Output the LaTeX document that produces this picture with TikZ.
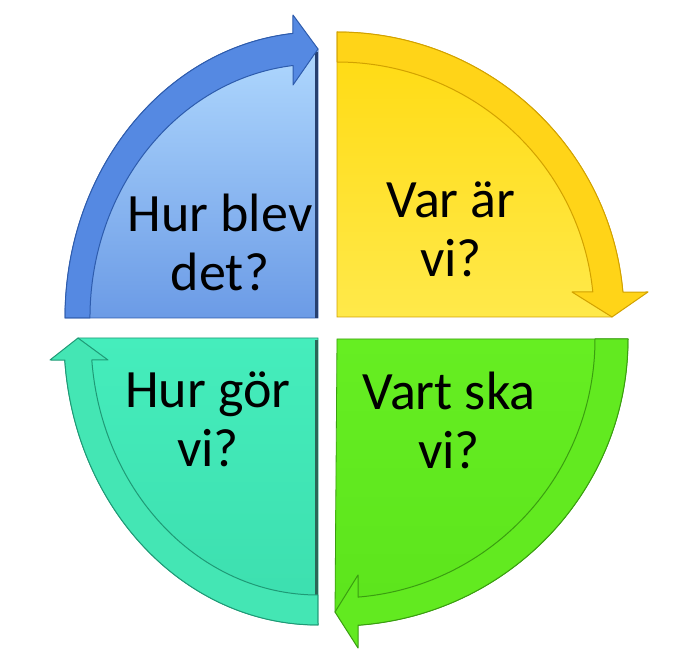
\documentclass[tikz,border=0pt]{standalone}
\usepackage{fontspec}
\setmainfont{Carlito}
\definecolor{blueTop}{HTML}{B3DBFF}
\definecolor{blueBot}{HTML}{6B9BE6}
\definecolor{blueBand}{HTML}{5589E2}
\definecolor{blueLine}{HTML}{2E5CAD}
\definecolor{blueEdge}{HTML}{27406F}
\definecolor{yelTop}{HTML}{FFDA10}
\definecolor{yelBot}{HTML}{FFE94A}
\definecolor{yelBand}{HTML}{FFD418}
\definecolor{yelLine}{HTML}{D2A200}
\definecolor{grnTop}{HTML}{66EE22}
\definecolor{grnBot}{HTML}{5CE41C}
\definecolor{grnBand}{HTML}{62EA20}
\definecolor{grnLine}{HTML}{3A9E10}
\definecolor{tealTop}{HTML}{45EDBC}
\definecolor{tealBot}{HTML}{3CDEAE}
\definecolor{tealBand}{HTML}{44E6B4}
\definecolor{tealLine}{HTML}{1F9A76}
\definecolor{tealEdge}{HTML}{2B6657}
\begin{document}
\begin{tikzpicture}[x=1pt,y=-1pt,
  lbl/.style={font=\fontsize{54}{59}\selectfont, align=center, inner sep=0pt, text=black, anchor=base},
  body/.style={line width=0.8pt},
  band/.style={line width=1pt, line join=round}]
\useasboundingbox (0,0) rectangle (686,660);

% ---------- blue (top left) ----------
\path[body, top color=blueTop, bottom color=blueBot, draw=blueLine]
  (318,318) -- (65,318) arc[start angle=180,end angle=264.3,x radius=253,y radius=286] -- (318,49) -- cycle;
\draw[blueEdge, line width=3pt] (316,52) -- (316,318);
\path[band, fill=blueBand, draw=blueLine]
  (65,318) arc[start angle=180,end angle=264.3,x radius=253,y radius=286]
  -- (293,15) -- (318,49) -- (293,85) -- (293,65.5)
  arc[start angle=263.71,end angle=180,x radius=228,y radius=254] -- cycle;

% ---------- yellow (top right) ----------
\path[body, top color=yelTop, bottom color=yelBot, draw=yelLine]
  (337,317) -- (337,32) arc[start angle=270,end angle=354.97,x radius=287,y radius=285] -- (612,317) -- cycle;
\path[band, fill=yelBand, draw=yelLine]
  (337,32) arc[start angle=270,end angle=354.97,x radius=287,y radius=285]
  -- (648,292) -- (612,317) -- (572,292) -- (592.8,292)
  arc[start angle=354.37,end angle=270,x radius=257,y radius=255] -- cycle;

% ---------- green (bottom right) ----------
\path[body, top color=grnTop, bottom color=grnBot, draw=grnLine]
  (337,339) -- (628,339) arc[start angle=0,end angle=85.86,x radius=291,y radius=287] -- (335,612) -- cycle;
\path[band, fill=grnBand, draw=grnLine]
  (628,339) arc[start angle=0,end angle=85.86,x radius=291,y radius=287]
  -- (358,648) -- (335,612) -- (358,575) -- (358,597.1)
  arc[start angle=85.33,end angle=0,x radius=258,y radius=259] -- cycle;

% ---------- teal (bottom left) ----------
\path[body, top color=tealTop, bottom color=tealBot, draw=tealLine]
  (318,338) -- (318,625) arc[start angle=90,end angle=175.6,x radius=254,y radius=287] -- (78,338) -- cycle;
\draw[tealEdge, line width=3pt] (316,340) -- (316,622);
\path[band, fill=tealBand, draw=tealLine]
  (318,625) arc[start angle=90,end angle=175.6,x radius=254,y radius=287]
  -- (50,360) -- (78,338) -- (108,360) -- (91.8,360)
  arc[start angle=175.09,end angle=90,x radius=227,y radius=257] -- cycle;

% ---------- labels (anchor = baseline of the last line) ----------
\node[lbl] (hurblev) at (220,291) {Hur blev\\det?};
\node[lbl] (varar) at (451,277) {Var är\\vi?};
\node[lbl] (hurgor) at (208,467) {Hur gör\\vi?};
\node[lbl] (vartska) at (449,468) {Vart ska\\vi?};
\end{tikzpicture}
\end{document}
